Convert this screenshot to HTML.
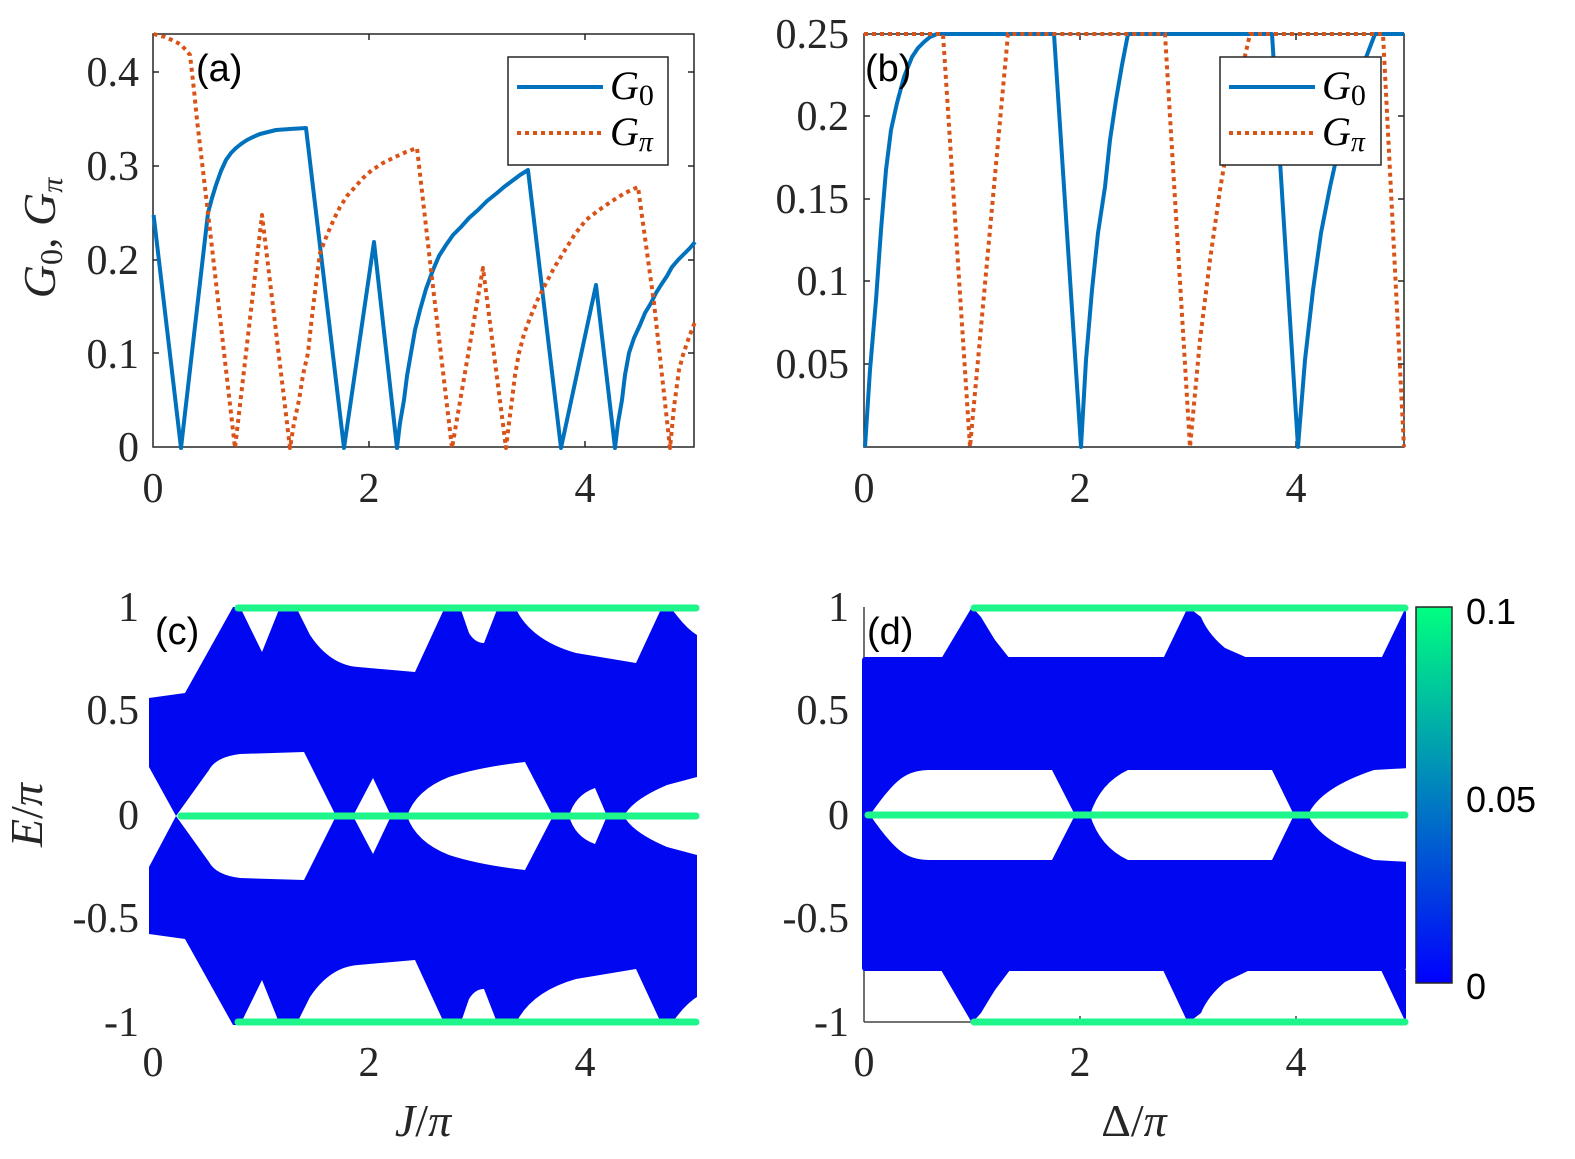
<!DOCTYPE html>
<html><head><meta charset="utf-8"><style>
html,body{margin:0;padding:0;background:#fff;}
svg{display:block;}
.tk{font-family:"Liberation Serif",serif;font-size:42px;fill:#262626;}
.pl{font-family:"Liberation Sans",sans-serif;font-size:38px;fill:#000;}
.lg{font-family:"Liberation Serif",serif;font-style:italic;font-size:40px;fill:#000;}
.ax{font-family:"Liberation Serif",serif;font-style:italic;font-size:46px;fill:#262626;}
</style></head><body>
<svg width="1575" height="1159" viewBox="0 0 1575 1159" xmlns="http://www.w3.org/2000/svg">
<rect width="1575" height="1159" fill="#fff"/>

<!-- ============ Panel (a) ============ -->
<g>
<rect x="153" y="34" width="541" height="413" fill="none" stroke="#262626" stroke-width="1.5"/>
<g stroke="#262626" stroke-width="1.5">
<line x1="153" y1="353" x2="159" y2="353"/><line x1="153" y1="260" x2="159" y2="260"/><line x1="153" y1="166" x2="159" y2="166"/><line x1="153" y1="72" x2="159" y2="72"/>
<line x1="694" y1="353" x2="688" y2="353"/><line x1="694" y1="260" x2="688" y2="260"/><line x1="694" y1="166" x2="688" y2="166"/><line x1="694" y1="72" x2="688" y2="72"/>
<line x1="369" y1="447" x2="369" y2="441"/><line x1="585" y1="447" x2="585" y2="441"/>
<line x1="369" y1="34" x2="369" y2="40"/><line x1="585" y1="34" x2="585" y2="40"/>
</g>
<polyline fill="none" stroke="#0072BD" stroke-width="4" stroke-linejoin="round"
 points="153.6,215 181,448 208,213 212,198 216,185 221,171 226,160 231,153 236,148 241,144 247,140 253,137 260,134 268,132 276,130 290,129 306,128 344,448 374,242 397,448 400,423 404,400 407,376 411,353 415,330 420,310 426,289 433,270 439,256 446,245 453,235 461,227 469,218 478,210 487,201 497,193 504,187 512,181 520,175 528,170 561,448 596,285 615,448 618,423 622,400 625,375 629,353 634,338 640,325 645,313 651,303 656,293 661,285 667,276 672,267 678,260 684,254 690,248 695,242"/>
<polyline fill="none" stroke="#D95319" stroke-width="4" stroke-dasharray="4,4" stroke-linejoin="round"
 points="153.6,34 165,37 172,40 178,43 182,46 186,50 190,55 194,90 197,120 208,213 235,448 262,215 290,448 294,423 299,400 303,375 308,353 311,325 314,300 317,276 320,253 325,240 330,228 335,217 340,207 347,196 355,187 363,178 372,170 383,163 395,157 406,152 417,148 431,270 452,448 483,268 506,448 509,423 512,400 515,375 519,353 524,334 530,318 537,301 544,287 554,268 565,250 575,234 586,220 599,210 612,201 625,193 638,187 654,303 670,448 674,407 679,370 683,355 687,343 691,332 695,322"/>
<text class="pl" x="196" y="81">(a)</text>
<rect x="508" y="57" width="160" height="108" fill="#fff" stroke="#262626" stroke-width="1.5"/>
<line x1="517" y1="87" x2="603" y2="87" stroke="#0072BD" stroke-width="4"/>
<line x1="517" y1="133" x2="603" y2="133" stroke="#D95319" stroke-width="4" stroke-dasharray="4,4"/>
<text class="lg" x="610" y="99">G<tspan font-style="normal" font-size="30" dy="6">0</tspan></text>
<text class="lg" x="610" y="145">G<tspan font-size="28" dy="6">π</tspan></text>
<g class="tk" text-anchor="end">
<text x="139" y="461">0</text><text x="139" y="368">0.1</text><text x="139" y="274">0.2</text><text x="139" y="180">0.3</text><text x="139" y="86">0.4</text>
</g>
<g class="tk" text-anchor="middle">
<text x="153" y="502">0</text><text x="369" y="502">2</text><text x="585" y="502">4</text>
</g>
<text class="ax" transform="translate(55,238) rotate(-90)" text-anchor="middle">G<tspan font-style="normal" font-size="32" dy="7">0</tspan><tspan dy="-7">, G</tspan><tspan font-size="30" dy="7">π</tspan></text>
</g>

<!-- ============ Panel (b) ============ -->
<g>
<rect x="864" y="34" width="540" height="413" fill="none" stroke="#262626" stroke-width="1.5"/>
<g stroke="#262626" stroke-width="1.5">
<line x1="864" y1="364" x2="870" y2="364"/><line x1="864" y1="281" x2="870" y2="281"/><line x1="864" y1="199" x2="870" y2="199"/><line x1="864" y1="116" x2="870" y2="116"/>
<line x1="1404" y1="364" x2="1398" y2="364"/><line x1="1404" y1="281" x2="1398" y2="281"/><line x1="1404" y1="199" x2="1398" y2="199"/><line x1="1404" y1="116" x2="1398" y2="116"/>
<line x1="1080" y1="447" x2="1080" y2="441"/><line x1="1296" y1="447" x2="1296" y2="441"/>
<line x1="1080" y1="34" x2="1080" y2="40"/><line x1="1296" y1="34" x2="1296" y2="40"/>
</g>
<polyline fill="none" stroke="#0072BD" stroke-width="4" stroke-linejoin="round"
 points="865,447 870,370 876,300 881,230 886,170 891,130 897,103 904,77 912,57 918,48 924,42 930,37 937,34 1054,34 1081,447 1086,360 1092,290 1098,233 1105,187 1110,140 1116,100 1122,65 1128,34 1272,34 1298,447 1305,360 1313,290 1321,233 1330,187 1340,142 1350,105 1362,68 1375,34 1404,34"/>
<polyline fill="none" stroke="#D95319" stroke-width="4" stroke-dasharray="4,4"
 points="864,34 943,34 970,447 1008,34 1165,34 1190,447 1200,340 1210,260 1220,190 1230,130 1240,78 1250,34 1383,34 1404,447"/>
<text class="pl" x="865" y="81">(b)</text>
<rect x="1220" y="57" width="161" height="108" fill="#fff" stroke="#262626" stroke-width="1.5"/>
<line x1="1229" y1="87" x2="1315" y2="87" stroke="#0072BD" stroke-width="4"/>
<line x1="1229" y1="133" x2="1315" y2="133" stroke="#D95319" stroke-width="4" stroke-dasharray="4,4"/>
<text class="lg" x="1322" y="99">G<tspan font-style="normal" font-size="30" dy="6">0</tspan></text>
<text class="lg" x="1322" y="145">G<tspan font-size="28" dy="6">π</tspan></text>
<g class="tk" text-anchor="end">
<text x="849" y="378">0.05</text><text x="849" y="295">0.1</text><text x="849" y="213">0.15</text><text x="849" y="130">0.2</text><text x="849" y="48">0.25</text>
</g>
<g class="tk" text-anchor="middle">
<text x="864" y="502">0</text><text x="1080" y="502">2</text><text x="1296" y="502">4</text>
</g>
</g>

<!-- ============ Panel (c) ============ -->
<g>
<g stroke="#444" stroke-width="1.5" fill="none">
<line x1="153" y1="607" x2="153" y2="1022"/><line x1="153" y1="1022" x2="697" y2="1022"/>
<line x1="153" y1="710" x2="159" y2="710"/><line x1="153" y1="816" x2="159" y2="816"/><line x1="153" y1="919" x2="159" y2="919"/>
<line x1="369" y1="1022" x2="369" y2="1016"/><line x1="585" y1="1022" x2="585" y2="1016"/>
</g>
<rect x="149" y="607" width="548" height="418" fill="#0008F2"/>
<g fill="#fff">
<polygon points="140,600 233,600 233,607 185,693 149,698 140,698"/>
<polygon points="140,1032 233,1032 233,1025 185,939 149,934 140,934"/>
<polygon points="140,767 149,767 176,816 149,867 140,867"/>
<polygon points="240,607 262,652 280,607"/>
<polygon points="240,1025 262,980 280,1025"/>
<path d="M296,607 L310,635 Q330,665 358,667 L415,672 L445,607 Z"/>
<path d="M296,1025 L310,997 Q330,967 358,965 L415,960 L445,1025 Z"/>
<path d="M460,607 L469,633 Q475,643 484,643 L498,607 Z"/>
<path d="M498,1025 L484,989 Q475,989 469,999 L460,1025 Z"/>
<path d="M515,607 Q530,640 576,653 L636,663 L662,607 Z"/>
<path d="M515,1025 Q530,992 576,979 L636,969 L662,1025 Z"/>
<path d="M670,607 L678,617 Q688,630 700,637 L705,637 L705,607 Z"/>
<path d="M670,1025 L678,1015 Q688,1002 700,995 L705,995 L705,1025 Z"/>
<path d="M176,816 L209,770 Q216,757 240,754 L304,752 L336,816 L304,880 L240,878 Q216,875 209,862 Z"/>
<polygon points="353,816 373,778 391,816 373,854"/>
<path d="M407,816 Q416,790 449,777 Q480,767 525,762 L553,816 L525,870 Q480,865 449,855 Q416,842 407,816 Z"/>
<path d="M569,816 Q575,795 595,788 L607,816 L595,844 Q575,837 569,816 Z"/>
<path d="M624,816 Q632,800 667,785 L697,777 L705,777 L705,855 L697,855 L667,847 Q632,832 624,816 Z"/>
</g>
<g stroke="#1EF58A" stroke-width="7" stroke-linecap="round">
<line x1="238" y1="608" x2="696" y2="608"/>
<line x1="181" y1="816" x2="696" y2="816"/>
<line x1="238" y1="1022" x2="696" y2="1022"/>
</g>
<text class="pl" x="155" y="644">(c)</text>
<g class="tk" text-anchor="end">
<text x="139" y="621">1</text><text x="139" y="724">0.5</text><text x="139" y="829">0</text><text x="139" y="932">-0.5</text><text x="139" y="1036">-1</text>
</g>
<g class="tk" text-anchor="middle">
<text x="153" y="1076">0</text><text x="369" y="1076">2</text><text x="585" y="1076">4</text>
</g>
<text class="ax" transform="translate(42,815) rotate(-90)" text-anchor="middle">E<tspan font-style="normal">/</tspan>π</text>
<text class="ax" x="423" y="1136" text-anchor="middle">J<tspan font-style="normal">/</tspan>π</text>
</g>

<!-- ============ Panel (d) ============ -->
<g>
<g stroke="#444" stroke-width="1.5" fill="none">
<line x1="864" y1="607" x2="864" y2="1022"/><line x1="864" y1="1022" x2="1406" y2="1022"/>
<line x1="1080" y1="1022" x2="1080" y2="1016"/><line x1="1296" y1="1022" x2="1296" y2="1016"/>
</g>
<rect x="862" y="657" width="544" height="314" rx="3" fill="#0008F2"/>
<g fill="#0008F2">
<path d="M941,659 L972,607 L981,617 Q990,632 995,640 L1010,659 Z"/>
<path d="M1163,659 L1188,607 L1201,617 Q1208,634 1225,648 L1250,659 Z"/>
<polygon points="1381,659 1406,607 1406,659"/>
<path d="M941,970 L972,1023 L981,1013 Q990,998 995,990 L1010,970 Z"/>
<path d="M1163,970 L1188,1023 L1201,1013 Q1208,996 1225,982 L1250,970 Z"/>
<polygon points="1381,970 1406,1023 1406,970"/>
</g>
<g fill="#fff">
<path d="M870,815 Q892,783 905,776 Q915,770 930,770 L1052,770 L1075,815 L1052,860 L930,860 Q915,860 905,854 Q892,847 870,815 Z"/>
<path d="M1090,815 Q1100,783 1128,770 L1272,770 L1294,815 L1272,860 L1128,860 Q1100,847 1090,815 Z"/>
<path d="M1308,815 Q1320,788 1374,770 L1410,768 L1410,862 L1374,860 Q1320,842 1308,815 Z"/>
</g>
<g stroke="#1EF58A" stroke-width="7" stroke-linecap="round">
<line x1="974" y1="608" x2="1405" y2="608"/>
<line x1="868" y1="815" x2="1405" y2="815"/>
<line x1="974" y1="1022" x2="1405" y2="1022"/>
</g>
<text class="pl" x="867" y="644">(d)</text>
<g class="tk" text-anchor="end">
<text x="849" y="621">1</text><text x="849" y="724">0.5</text><text x="849" y="829">0</text><text x="849" y="932">-0.5</text><text x="849" y="1036">-1</text>
</g>
<g class="tk" text-anchor="middle">
<text x="864" y="1076">0</text><text x="1080" y="1076">2</text><text x="1296" y="1076">4</text>
</g>
<text class="ax" x="1134" y="1136" text-anchor="middle"><tspan font-style="normal">Δ/</tspan>π</text>
</g>

<!-- colorbar -->
<defs><linearGradient id="cb" x1="0" y1="0" x2="0" y2="1">
<stop offset="0" stop-color="#00FF80"/><stop offset="1" stop-color="#0000FF"/></linearGradient></defs>
<rect x="1416" y="607" width="36" height="376" fill="url(#cb)" stroke="#262626" stroke-width="1.5"/>
<g font-family="Liberation Sans, sans-serif" font-size="36" fill="#000">
<text x="1466" y="624">0.1</text><text x="1466" y="812">0.05</text><text x="1466" y="999">0</text>
</g>
</svg>
</body></html>
